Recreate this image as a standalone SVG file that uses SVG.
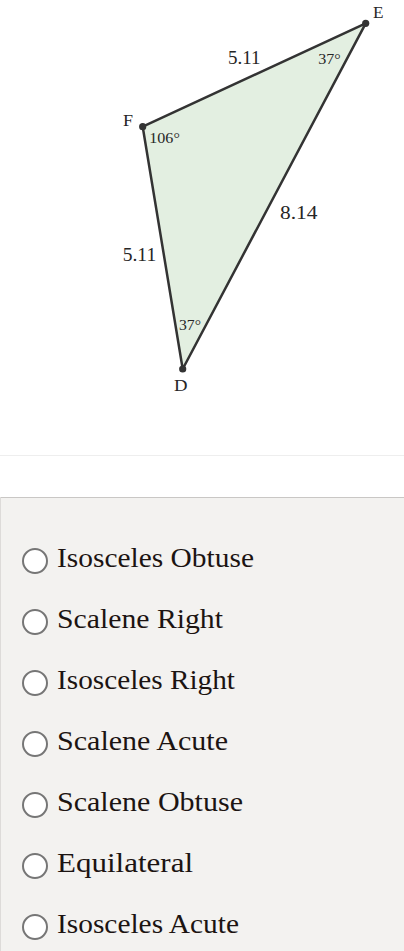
<svg xmlns="http://www.w3.org/2000/svg" width="404" height="951" viewBox="0 0 404 951">
<style>
.lbl{font-family:"Liberation Serif","DejaVu Serif",serif;fill:#262626}
.opt{font-family:"Liberation Serif","DejaVu Serif",serif;font-size:28px;fill:#1c1412}
.radio{fill:#fff;stroke:#767676;stroke-width:2}
.dot{fill:#333}
</style>
<rect x="0" y="0" width="404" height="951" fill="#fff"/>
<g id="triangle">
<polygon points="365.7,23.3 142.7,126.7 182.7,369" fill="#e3efe1" stroke="#333" stroke-width="2.5" stroke-linejoin="round"/>
<circle class="dot" cx="365.7" cy="23.3" r="3.6"/>
<circle class="dot" cx="142.7" cy="126.7" r="3.6"/>
<circle class="dot" cx="182.7" cy="369" r="3.6"/>
</g>
<g id="labels">
<text class="lbl" x="373" y="17.5" font-size="16" textLength="10.5" lengthAdjust="spacingAndGlyphs">E</text>
<text class="lbl" x="123" y="125.5" font-size="16" textLength="10" lengthAdjust="spacingAndGlyphs">F</text>
<text class="lbl" x="174" y="391" font-size="16" textLength="13.5" lengthAdjust="spacingAndGlyphs">D</text>
<text class="lbl" x="228" y="64" font-size="18" textLength="32.5" lengthAdjust="spacingAndGlyphs">5.11</text>
<text class="lbl" x="280" y="218.5" font-size="18" textLength="37.5" lengthAdjust="spacingAndGlyphs">8.14</text>
<text class="lbl" x="122.7" y="261" font-size="18" textLength="33.5" lengthAdjust="spacingAndGlyphs">5.11</text>
<text class="lbl" x="318.3" y="64.3" font-size="15" textLength="22.5" lengthAdjust="spacingAndGlyphs">37°</text>
<text class="lbl" x="149.3" y="143.3" font-size="15" textLength="30.5" lengthAdjust="spacingAndGlyphs">106°</text>
<text class="lbl" x="179" y="330" font-size="15" textLength="22" lengthAdjust="spacingAndGlyphs">37°</text>
</g>
<line x1="0" y1="455.5" x2="404" y2="455.5" stroke="#eeeeee" stroke-width="1"/>
<g id="panel">
<rect x="0" y="497" width="404" height="454" fill="#f3f2f0"/>
<line x1="0" y1="497.5" x2="404" y2="497.5" stroke="#c9c7c5" stroke-width="1.2"/>
<line x1="0.5" y1="497" x2="0.5" y2="951" stroke="#dddbd9" stroke-width="1"/>
</g>
<g id="opt1"><circle class="radio" cx="35" cy="561" r="12"/><text class="opt" x="57" y="567" textLength="197" lengthAdjust="spacingAndGlyphs">Isosceles Obtuse</text></g>
<g id="opt2"><circle class="radio" cx="35" cy="622" r="12"/><text class="opt" x="57" y="628" textLength="166" lengthAdjust="spacingAndGlyphs">Scalene Right</text></g>
<g id="opt3"><circle class="radio" cx="35" cy="683" r="12"/><text class="opt" x="57" y="689" textLength="178" lengthAdjust="spacingAndGlyphs">Isosceles Right</text></g>
<g id="opt4"><circle class="radio" cx="35" cy="744" r="12"/><text class="opt" x="57" y="750" textLength="171" lengthAdjust="spacingAndGlyphs">Scalene Acute</text></g>
<g id="opt5"><circle class="radio" cx="35" cy="805" r="12"/><text class="opt" x="57" y="811" textLength="186" lengthAdjust="spacingAndGlyphs">Scalene Obtuse</text></g>
<g id="opt6"><circle class="radio" cx="35" cy="866" r="12"/><text class="opt" x="57" y="872" textLength="136" lengthAdjust="spacingAndGlyphs">Equilateral</text></g>
<g id="opt7"><circle class="radio" cx="35" cy="927" r="12"/><text class="opt" x="57" y="933" textLength="182" lengthAdjust="spacingAndGlyphs">Isosceles Acute</text></g>
</svg>
